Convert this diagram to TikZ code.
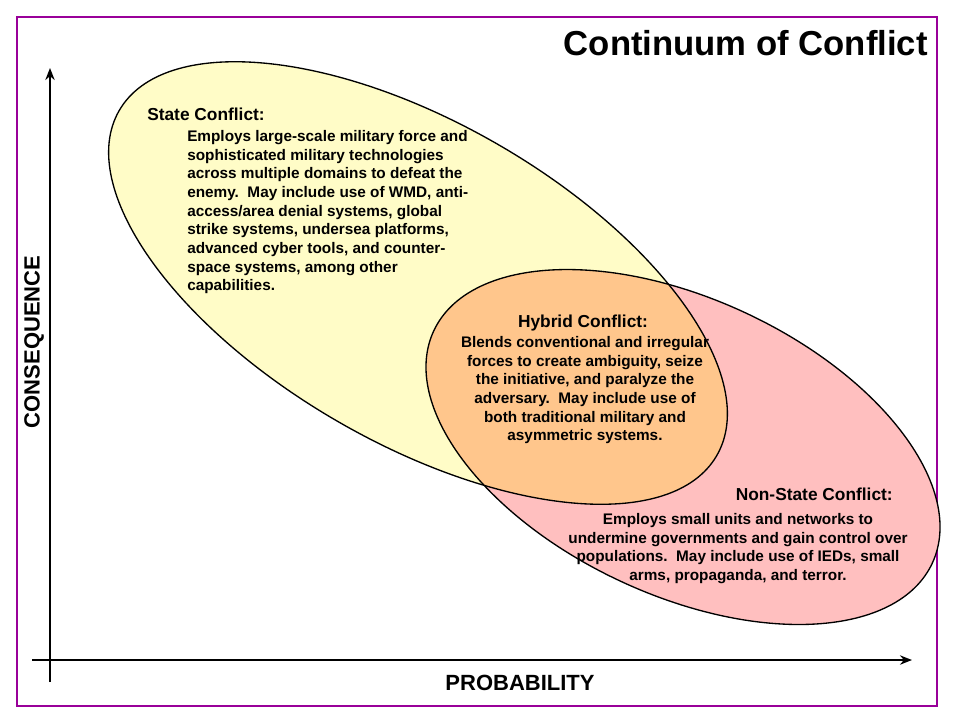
\documentclass[tikz,border=0pt]{standalone}
\usepackage{fontspec}
\setmainfont{Liberation Sans}
\usetikzlibrary{arrows.meta}
\begin{document}
\begin{tikzpicture}[x=0.75pt,y=-0.75pt,
  body/.style={font=\bfseries\fontsize{11.5}{14}\selectfont,align=left,inner sep=0},
  head/.style={font=\bfseries\fontsize{13}{15}\selectfont,inner sep=0},
  ax/.style={line width=1.5pt,-{Stealth[length=9pt,width=7pt]}},
  axl/.style={font=\bfseries\fontsize{16.5}{18}\selectfont}]
\useasboundingbox (0,0) rectangle (955,719);
\draw[line width=1.6pt,violet!80!magenta] (17,17) rectangle (937,706);
\node[anchor=base east,font=\bfseries\fontsize{26}{30}\selectfont,inner sep=0] (title) at (928,55) {Continuum of Conflict};
% ellipses
\coordinate (cs) at (418,283);
\coordinate (cn) at (683,447);
\fill[red!25!white,rotate around={-25:(cn)}] (cn) ellipse [x radius=275, y radius=148];
\fill[yellow!22!white,rotate around={-30:(cs)}] (cs) ellipse [x radius=345, y radius=160];
\begin{scope}
\clip[rotate around={-30:(cs)}] (cs) ellipse [x radius=345, y radius=160];
\fill[orange!45!white,rotate around={-25:(cn)}] (cn) ellipse [x radius=275, y radius=148];
\end{scope}
\draw[line width=1pt,rotate around={-30:(cs)}] (cs) ellipse [x radius=345, y radius=160];
\draw[line width=1pt,rotate around={-25:(cn)}] (cn) ellipse [x radius=275, y radius=148];
% axes
\coordinate (o1) at (50,682); \coordinate (yt) at (50,68);
\coordinate (o2) at (32,660); \coordinate (xt) at (912,660);
\draw[ax] (o1) -- (yt);
\draw[ax] (o2) -- (xt);
\node[axl] (xl) at (520,683) {PROBABILITY};
\node[axl,rotate=90] (yl) at (34,342) {CONSEQUENCE};
% texts
\node[head,anchor=base west] (sh) at (147,120) {State Conflict:};
\node[body,anchor=north west] (sb) at (187,130) {Employs large-scale military force and\\sophisticated military technologies\\across multiple domains to defeat the\\enemy.\ \ May include use of WMD, anti-\\access/area denial systems, global\\strike systems, undersea platforms,\\advanced cyber tools, and counter-\\space systems, among other\\capabilities.};
\node[head,anchor=base] (hh) at (583,327) {Hybrid Conflict:};
\node[body,align=center,anchor=north] (hb) at (585,336) {Blends conventional and irregular\\forces to create ambiguity, seize\\the initiative, and paralyze the\\adversary.\ \ May include use of\\both traditional military\ and\\asymmetric systems.};
\node[head,anchor=base east] (nh) at (893,500) {Non-State Conflict:};
\node[body,align=center,anchor=north] (nb) at (738,513) {Employs small units and networks to\\undermine governments and gain control over\\populations.\ \ May include use of IEDs, small\\arms, propaganda, and terror.};
\end{tikzpicture}
\end{document}
